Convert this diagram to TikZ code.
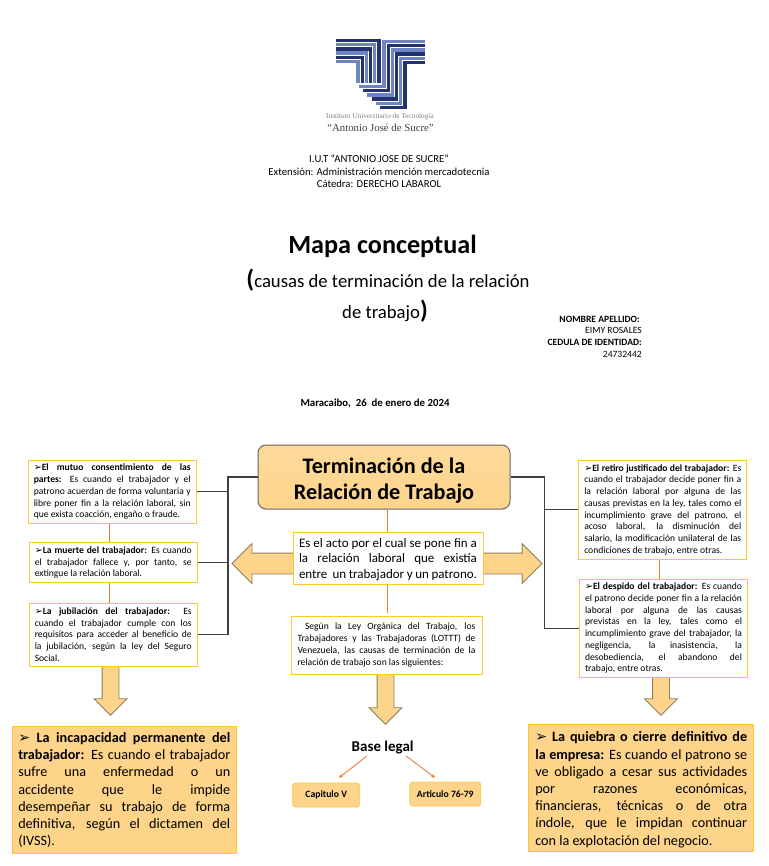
\documentclass[tikz,border=0pt]{standalone}
\usepackage{fontspec}
\setmainfont{Carlito}
\newfontfamily\dejavu{DejaVu Sans}
\newfontfamily\serifa{Liberation Serif}
\usetikzlibrary{arrows.meta, shapes.arrows}

\definecolor{amarillo}{HTML}{FFC62E}
\definecolor{naranja}{HTML}{ED7D31}
\definecolor{crema}{HTML}{FDD48A}
\definecolor{borde}{HTML}{8E7E5C}
\definecolor{oscuro}{HTML}{404040}
\definecolor{azulo}{HTML}{24336E}
\definecolor{azulc}{HTML}{6E86C4}

\newcommand{\flecha}{{\dejavu\char"27A2}}

\begin{document}
\begin{tikzpicture}[x=1pt, y=-1pt,
    cajachica/.style = {draw=amarillo, fill=white, line width=1pt, inner sep=0pt, text width=157pt, minimum width=168pt, align=justify, font=\fontsize{9.6}{11.75}\selectfont},
    cajagrande/.style = {draw=amarillo, fill=crema, line width=1pt, inner sep=0pt, text width=212pt, minimum width=224pt, align=justify, font=\fontsize{14.2}{17.2}\selectfont},
    cajabase/.style = {draw=amarillo!70!crema, fill=crema, rounded corners=3pt, line width=0.8pt, inner sep=0pt, font=\fontsize{9.7}{11}\selectfont\bfseries},
    bajada/.style = {draw=borde, fill=crema, line width=0.8pt, single arrow, single arrow head extend=8pt, inner xsep=0pt, inner ysep=8pt, minimum width=32pt, rotate=-90},
    enlace/.style = {draw=naranja, line width=0.9pt},
    conector/.style = {draw=oscuro, line width=1.1pt},
    linea/.style = {inner sep=0pt, align=center}]
    \useasboundingbox (0,0) rectangle (768,866);

    % logo
    \foreach \i/\col in {0/azulo,1/azulc,2/azulo,3/azulc,4/azulo,5/azulc} {
        \draw[\col, line width=3.3pt] (336,{40.5+\i*4.2}) -- ({379-\i*4.2},{40.5+\i*4.2}) -- ({379-\i*4.2},83);
        \pgfmathsetmacro{\yb}{107.5-\i*4.2}
        \draw[\col, line width=3.3pt] (425,{62.5-\i*4.2}) -- ({405-\i*4.2},{62.5-\i*4.2}) -- ({405-\i*4.2},\yb) -- ({355+(\yb-83)*1.03},\yb);
    }
    \node[linea, text=gray, font=\serifa\fontsize{7.3}{9}\selectfont] (instituto) at (380,117) {Instituto Universitario de Tecnología};
    \node[linea, text=black!75, font=\serifa\fontsize{10.8}{12}\selectfont] (antonio) at (380.5,128) {“Antonio José de Sucre”};

    % encabezado
    \node[linea, font=\fontsize{10.7}{12.4}\selectfont] (iut) at (379,171.5) {I.U.T “ANTONIO JOSE DE SUCRE”\\Extensión: Administración mención mercadotecnia\\Cátedra: DERECHO LABAROL};
    \node[linea, font=\fontsize{26.2}{30}\selectfont\bfseries] (mapa) at (382.5,246) {Mapa conceptual};
    \node[linea, font=\fontsize{18.7}{22}\selectfont] (causas1) at (388,280) {{\fontsize{25}{25}\selectfont\bfseries(}causas de terminación de la relación};
    \node[linea, font=\fontsize{18.7}{22}\selectfont] (causas2) at (385,311) {de trabajo{\fontsize{25}{25}\selectfont\bfseries)}};
    \node[linea, align=right, anchor=east, font=\fontsize{9.6}{11.7}\selectfont] (nombre) at (642,336.5) {\textbf{NOMBRE APELLIDO:}\hspace*{2pt}\\EIMY ROSALES\hspace*{2pt}\\\textbf{CEDULA DE IDENTIDAD:}\hspace*{2pt}\\24732442};
    \node[linea, font=\fontsize{10.8}{13}\selectfont\bfseries] (fecha) at (375,403) {Maracaibo,\ \ 26\ \ de enero de 2024};

    % flechas
    \node[draw=borde, fill=crema, line width=0.8pt, double arrow, double arrow head extend=9.5pt, inner xsep=0pt, inner ysep=10pt, minimum width=39pt, minimum height=310pt] (ambas) at (387,563.5) {};
    \node[bajada, minimum height=49pt] (bajaizq) at (110.5,686.5) {};
    \node[bajada, minimum height=50pt] (bajacentro) at (385.5,695) {};
    \node[bajada, minimum height=38pt] (bajader) at (661,692) {};

    % cajas
    \node[draw=gray!80!black, top color=crema!85!white, bottom color=crema, rounded corners=8pt, line width=1pt, minimum width=252pt, minimum height=64pt, align=center, inner sep=0pt, font=\fontsize{22.2}{26}\selectfont\bfseries] (cabecera) at (384,477) {\rule{0pt}{22pt}Terminación de la\\Relación de Trabajo};
    \node[draw=amarillo, fill=white, line width=1pt, inner sep=0pt, text width=178pt, minimum width=190pt, minimum height=52pt, align=justify, font=\fontsize{13}{15.6}\selectfont] (acto) at (388,558) {\rule{0pt}{12pt}Es el acto por el cual se pone fin a\linebreak la relación laboral que existía\linebreak entre\ \ un trabajador y un patrono.};
    \node[cajachica, text width=178pt, minimum width=191pt, minimum height=58pt] (ley) at (386.5,645) {\hspace*{7.5pt}Según la Ley Orgánica del Trabajo, los\linebreak Trabajadores y las Trabajadoras (LOTTT) de\linebreak Venezuela, las causas de terminación de la\linebreak relación de trabajo son las siguientes:};

    \node[cajachica, minimum height=62.5pt] (mutuo) at (112.25,491.75) {\flecha\textbf{El mutuo consentimiento de las}\linebreak \textbf{partes:} Es cuando el trabajador y el\linebreak patrono acuerdan de forma voluntaria y\linebreak libre poner fin a la relación laboral, sin\linebreak que exista coacción, engaño o fraude.};
    \node[cajachica, minimum height=40pt] (muerte) at (113.25,562.5) {\flecha\textbf{La muerte del trabajador:} Es cuando\linebreak el trabajador fallece y, por tanto, se\linebreak extingue la relación laboral.};
    \node[cajachica, minimum height=63pt] (jubilacion) at (113.25,634.5) {\flecha\textbf{La jubilación del trabajador:} Es\linebreak cuando el trabajador cumple con los\linebreak requisitos para acceder al beneficio de\linebreak la jubilación, según la ley del Seguro\linebreak Social.};

    \node[cajachica, minimum height=98.5pt] (retiro) at (662.75,509.75) {\flecha\textbf{El retiro justificado del trabajador:} Es\linebreak cuando el trabajador decide poner fin a\linebreak la relación laboral por alguna de las\linebreak causas previstas en la ley, tales como el\linebreak incumplimiento grave del patrono, el\linebreak acoso laboral, la disminución del\linebreak salario, la modificación unilateral de las\linebreak condiciones de trabajo, entre otras.};
    \node[cajachica, minimum height=98.5pt] (despido) at (663.5,628.25) {\flecha\textbf{El despido del trabajador:} Es cuando\linebreak el patrono decide poner fin a la relación\linebreak laboral por alguna de las causas\linebreak previstas en la ley, tales como el\linebreak incumplimiento grave del trabajador, la\linebreak negligencia, la inasistencia, la\linebreak desobediencia, el abandono del\linebreak trabajo, entre otras.};

    \node[cajagrande, minimum height=127.5pt] (incapacidad) at (124.25,790) {\flecha\ \textbf{La incapacidad permanente del}\linebreak \textbf{trabajador:} Es cuando el trabajador\linebreak sufre una enfermedad o un\linebreak accidente que le impide\linebreak desempeñar su trabajo de forma\linebreak definitiva, según el dictamen del\linebreak (IVSS).};
    \node[cajagrande, minimum width=225pt, minimum height=126.5pt] (quiebra) at (641.25,788) {\rule{0pt}{13.5pt}\flecha\ \textbf{La quiebra o cierre definitivo de}\linebreak \textbf{la empresa:} Es cuando el patrono se\linebreak ve obligado a cesar sus actividades\linebreak por razones económicas,\linebreak financieras, técnicas o de otra\linebreak índole, que le impidan continuar\linebreak con la explotación del negocio.};

    \node[linea, font=\fontsize{15}{18}\selectfont\bfseries] (base) at (382.7,747) {Base legal};
    \node[cajabase, minimum width=67pt, minimum height=24pt] (capitulo) at (326.2,795) {Capitulo V};
    \node[cajabase, minimum width=71pt, minimum height=24pt] (articulo) at (445.3,794) {Articulo 76-79};

    % enlaces
    \coordinate (ejeizq) at (109.5,0);
    \coordinate (ejecentro) at (387.5,0);
    \coordinate (ejeder) at (659.5,0);
    \coordinate (finacto) at (387.5,612.5);
    \draw[enlace] (mutuo.south -| ejeizq) -- (muerte.north -| ejeizq);
    \draw[enlace] (muerte.south -| ejeizq) -- (jubilacion.north -| ejeizq);
    \draw[enlace] (retiro.south -| ejeder) -- (despido.north -| ejeder);
    \draw[enlace] (cabecera.south -| ejecentro) -- (acto.north -| ejecentro);
    \draw[enlace] (acto.south -| ejecentro) -- (finacto);
    \coordinate (salidaizq) at (367,756);
    \coordinate (llegadaizq) at (339,777.7);
    \coordinate (salidader) at (406,756);
    \coordinate (llegadader) at (435,777.7);
    \draw[enlace, -{Stealth[length=4pt, width=4pt]}] (salidaizq) -- (llegadaizq);
    \draw[enlace, -{Stealth[length=4pt, width=4pt]}] (salidader) -- (llegadader);

    % conectores
    \coordinate (busizq) at (228,477);
    \coordinate (busder) at (544.5,477);
    \draw[conector] (cabecera.west) -- (busizq) |- (jubilacion.east);
    \draw[conector] (mutuo.east) -- (mutuo.east -| busizq);
    \draw[conector] (muerte.east) -- (muerte.east -| busizq);
    \draw[conector] (cabecera.east) -- (busder) |- (despido.west);
    \draw[conector] (retiro.west) -- (retiro.west -| busder);
\end{tikzpicture}
\end{document}
